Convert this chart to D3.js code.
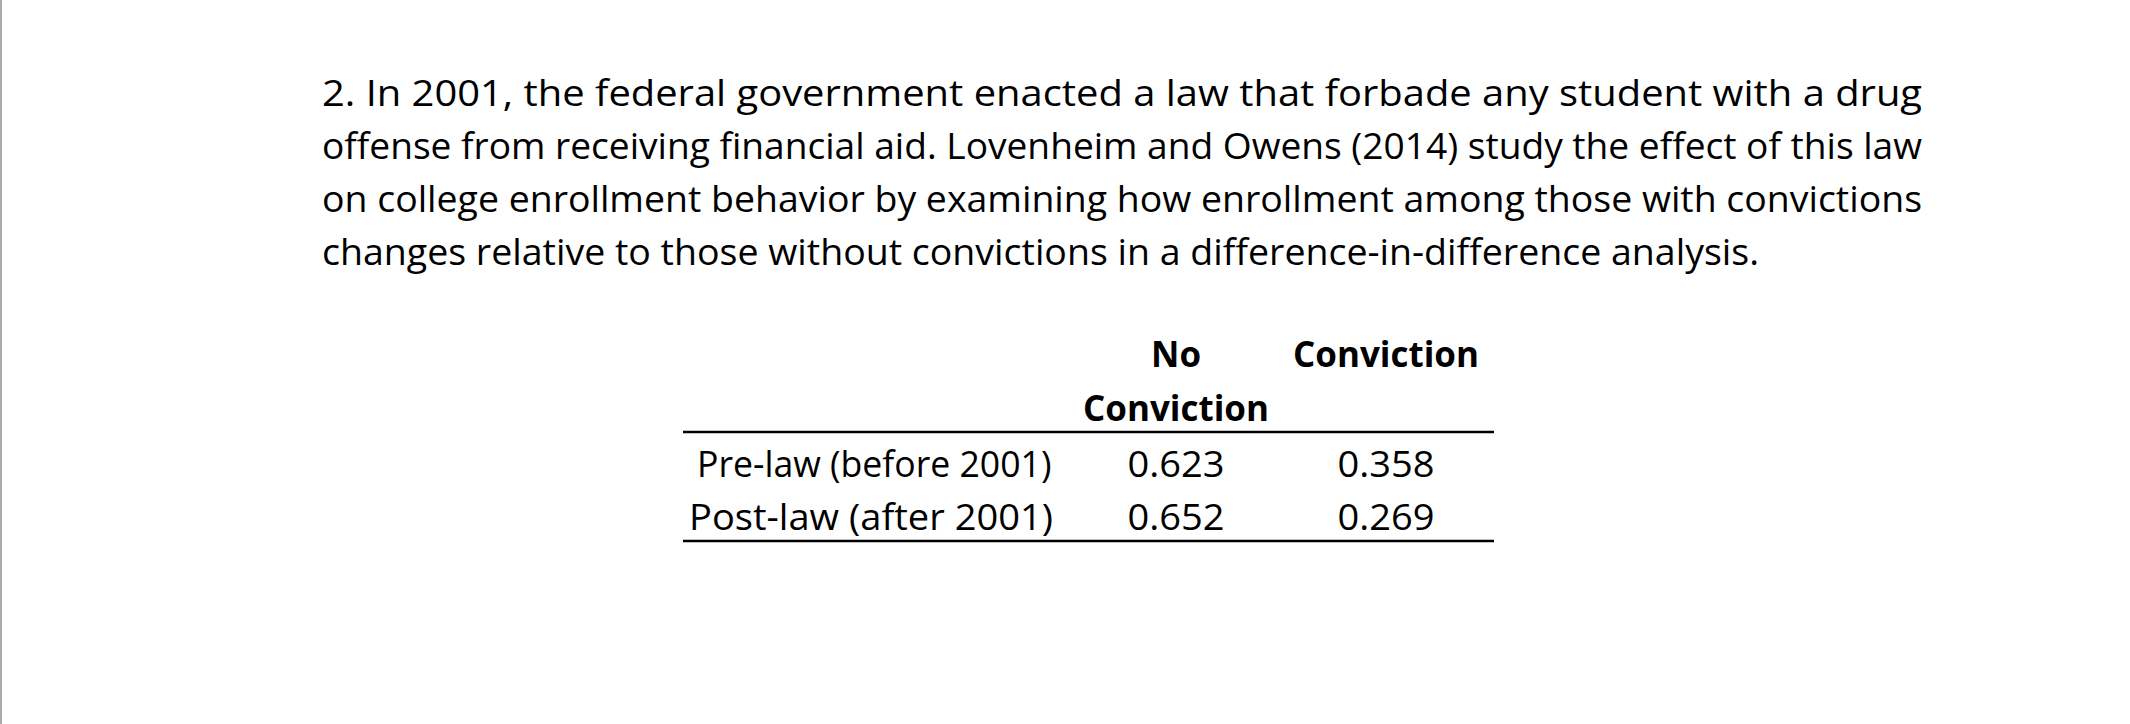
<!DOCTYPE html>
<html>
<head>
<script src="https://d3js.org/d3.v7.min.js"></script>
<style>
  body { margin: 0; background: #fff; }
  text { font-family: "Open Sans", "Noto Sans", sans-serif; fill: #000; }
</style>
</head>
<body>
<svg id="page" width="2130" height="724"></svg>
<script>
const paragraph = [
  "2. In 2001, the federal government enacted a law that forbade any student with a drug",
  "offense from receiving financial aid. Lovenheim and Owens (2014) study the effect of this law",
  "on college enrollment behavior by examining how enrollment among those with convictions",
  "changes relative to those without convictions in a difference-in-difference analysis."
];
const lineWidths = [1600, 1600, 1600, 1437];
const columns = ["No Conviction", "Conviction"];
const rows = ["Pre-law (before 2001)", "Post-law (after 2001)"];
const rowOffsets = [8, 0];
const noConviction = [0.623, 0.652];
const conviction = [0.358, 0.269];

const svg = d3.select("#page");

// left page edge
svg.append("line").attr("x1", 1).attr("x2", 1).attr("y1", 0).attr("y2", 724)
  .attr("stroke", "#aaa").attr("stroke-width", 2);

// paragraph
const lineY = d3.scaleLinear().domain([0, 1]).range([106, 159]);
svg.selectAll("text.para").data(paragraph).join("text")
  .attr("class", "para")
  .attr("x", 322)
  .attr("y", (d, i) => lineY(i))
  .attr("font-size", 36)
  .attr("textLength", (d, i) => lineWidths[i])
  .attr("lengthAdjust", "spacingAndGlyphs")
  .text(d => d);

// table
const colX = d3.scaleOrdinal().domain(columns).range([1176, 1386]);
const rowY = d3.scaleBand().domain(rows).range([441, 547]);
const g = svg.append("g").attr("font-size", 36);

g.append("text").attr("x", colX(columns[0])).attr("y", 367).attr("text-anchor", "middle")
  .attr("font-weight", "bold").attr("textLength", 50).attr("lengthAdjust", "spacingAndGlyphs").text("No");
g.append("text").attr("x", colX(columns[0])).attr("y", 421).attr("text-anchor", "middle")
  .attr("font-weight", "bold").attr("textLength", 186).attr("lengthAdjust", "spacingAndGlyphs").text("Conviction");
g.append("text").attr("x", colX(columns[1])).attr("y", 367).attr("text-anchor", "middle")
  .attr("font-weight", "bold").attr("textLength", 186).attr("lengthAdjust", "spacingAndGlyphs").text("Conviction");

[432, 541].forEach(y => g.append("line").attr("x1", 683).attr("x2", 1494)
  .attr("y1", y).attr("y2", y).attr("stroke", "#000").attr("stroke-width", 2.5));

rows.forEach((r, i) => {
  const y = rowY(r) + rowY.bandwidth() - 17;
  g.append("text").attr("x", 689 + rowOffsets[i]).attr("y", y)
    .attr("textLength", 364 - rowOffsets[i] * 1.2).attr("lengthAdjust", "spacingAndGlyphs").text(r);
  g.append("text").attr("x", colX(columns[0])).attr("y", y).attr("text-anchor", "middle")
    .attr("textLength", 97).attr("lengthAdjust", "spacingAndGlyphs").text(d3.format(".3f")(noConviction[i]));
  g.append("text").attr("x", colX(columns[1])).attr("y", y).attr("text-anchor", "middle")
    .attr("textLength", 97).attr("lengthAdjust", "spacingAndGlyphs").text(d3.format(".3f")(conviction[i]));
});
</script>
</body>
</html>
